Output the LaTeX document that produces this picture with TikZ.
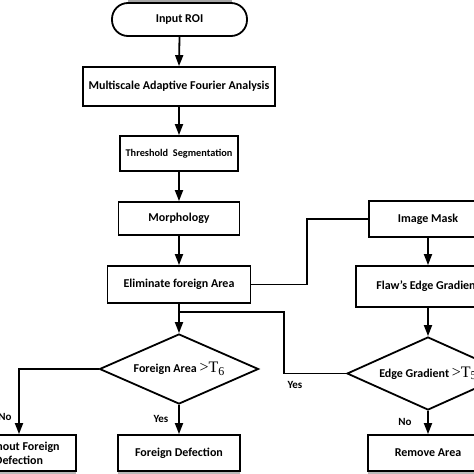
\documentclass[tikz,border=0pt]{standalone}
\usepackage{fontspec}
\setmainfont{Carlito}
\newfontfamily\serifT{Liberation Serif}
\usetikzlibrary{shapes.geometric,arrows.meta}
\tikzset{
  x=1pt,y=-1pt,
  every node/.style={font=\bfseries\fontsize{12}{14}\selectfont},
  boxnode/.style={draw,line width=1.8pt,rectangle,inner sep=0pt,align=center},
  diam/.style={draw,line width=1.8pt,diamond,inner sep=0pt,aspect=2.2},
  conn/.style={line width=1.8pt},
  arr/.style={conn,-{Triangle[length=11pt,width=8pt]}},
  lbl/.style={font=\bfseries\fontsize{11}{13}\selectfont}
}
\newcommand{\gtT}[1]{{\serifT\mdseries\fontsize{16}{16}\selectfont >T\raisebox{-0.35ex}{\fontsize{12}{12}\selectfont #1}}}
\begin{document}
\begin{tikzpicture}
\useasboundingbox (0,0) rectangle (474,474);
\clip (0,0) rectangle (474,474);
\fill[white] (0,0) rectangle (474,474);
% cropped neighbour artefacts
\fill[gray!70] (128,0) rectangle (232,3.5);
\fill[gray!55] (0,471) rectangle (76,474);
\fill[gray!55] (118,471) rectangle (240,474);
\fill[gray!55] (368,471) rectangle (488,474);

\node[boxnode,rounded corners=16pt,minimum width=135pt,minimum height=33pt] (roi) at (179.5,19.5) {Input ROI};
\node[boxnode,minimum width=192pt,minimum height=39pt] (mafa) at (179,86.5) {Multiscale Adaptive Fourier Analysis};
\node[boxnode,minimum width=118pt,minimum height=35pt,font=\bfseries\fontsize{10.3}{12}\selectfont] (thr) at (179,153.5) {Threshold\ \ Segmentation};
\node[boxnode,minimum width=121pt,minimum height=33pt] (mor) at (179,218.5) {Morphology};
\node[boxnode,minimum width=143pt,minimum height=37pt] (elim) at (179,284.5) {Eliminate foreign Area};
\node[boxnode,minimum width=118pt,minimum height=36pt] (mask) at (428,219) {Image Mask};
\node[boxnode,minimum width=144pt,minimum height=41pt] (flaw) at (428,286.5) {Flaw’s Edge Gradient};
\node[diam,minimum width=159pt,minimum height=70pt] (fdiam) at (179,369) {};
\node at (179,369) {Foreign Area \gtT{6}};
\node[diam,minimum width=162pt,minimum height=73pt] (ediam) at (428,373.5) {};
\node at (428,373.5) {Edge Gradient \gtT{5}};
\node[boxnode,minimum width=114pt,minimum height=36pt] (wout) at (19,453) {Without Foreign\\Defection};
\node[boxnode,minimum width=122pt,minimum height=36pt] (fdef) at (179,453) {Foreign Defection};
\node[boxnode,minimum width=120pt,minimum height=36pt] (rem) at (428,453) {Remove Area};

\coordinate (j1) at (307,219);
\coordinate (b1) at (179,312);
\coordinate (b2) at (284,312);

\draw[arr] (roi.south) -- (mafa.north);
\draw[arr] (mafa.south) -- (thr.north);
\draw[arr] (thr.south) -- (mor.north);
\draw[arr] (mor.south) -- (elim.north);
\draw[arr] (elim.south) -- (fdiam.north);
\draw[conn] (elim.east) -| (j1) -- (mask.west);
\draw[conn] (b1) -- (b2) |- (ediam.west);
\draw[arr] (mask.south) -- (flaw.north);
\draw[arr] (flaw.south) -- (ediam.north);
\draw[arr] (ediam.south) -- (rem.north);
\draw[arr] (fdiam.west) -| (wout.north);
\draw[arr] (fdiam.south) -- (fdef.north);

\node[lbl] (lno1) at (5,417) {No};
\node[lbl] (lyes1) at (161,419) {Yes};
\node[lbl] (lyes2) at (295,385) {Yes};
\node[lbl] (lno2) at (405,422) {No};
\end{tikzpicture}
\end{document}
